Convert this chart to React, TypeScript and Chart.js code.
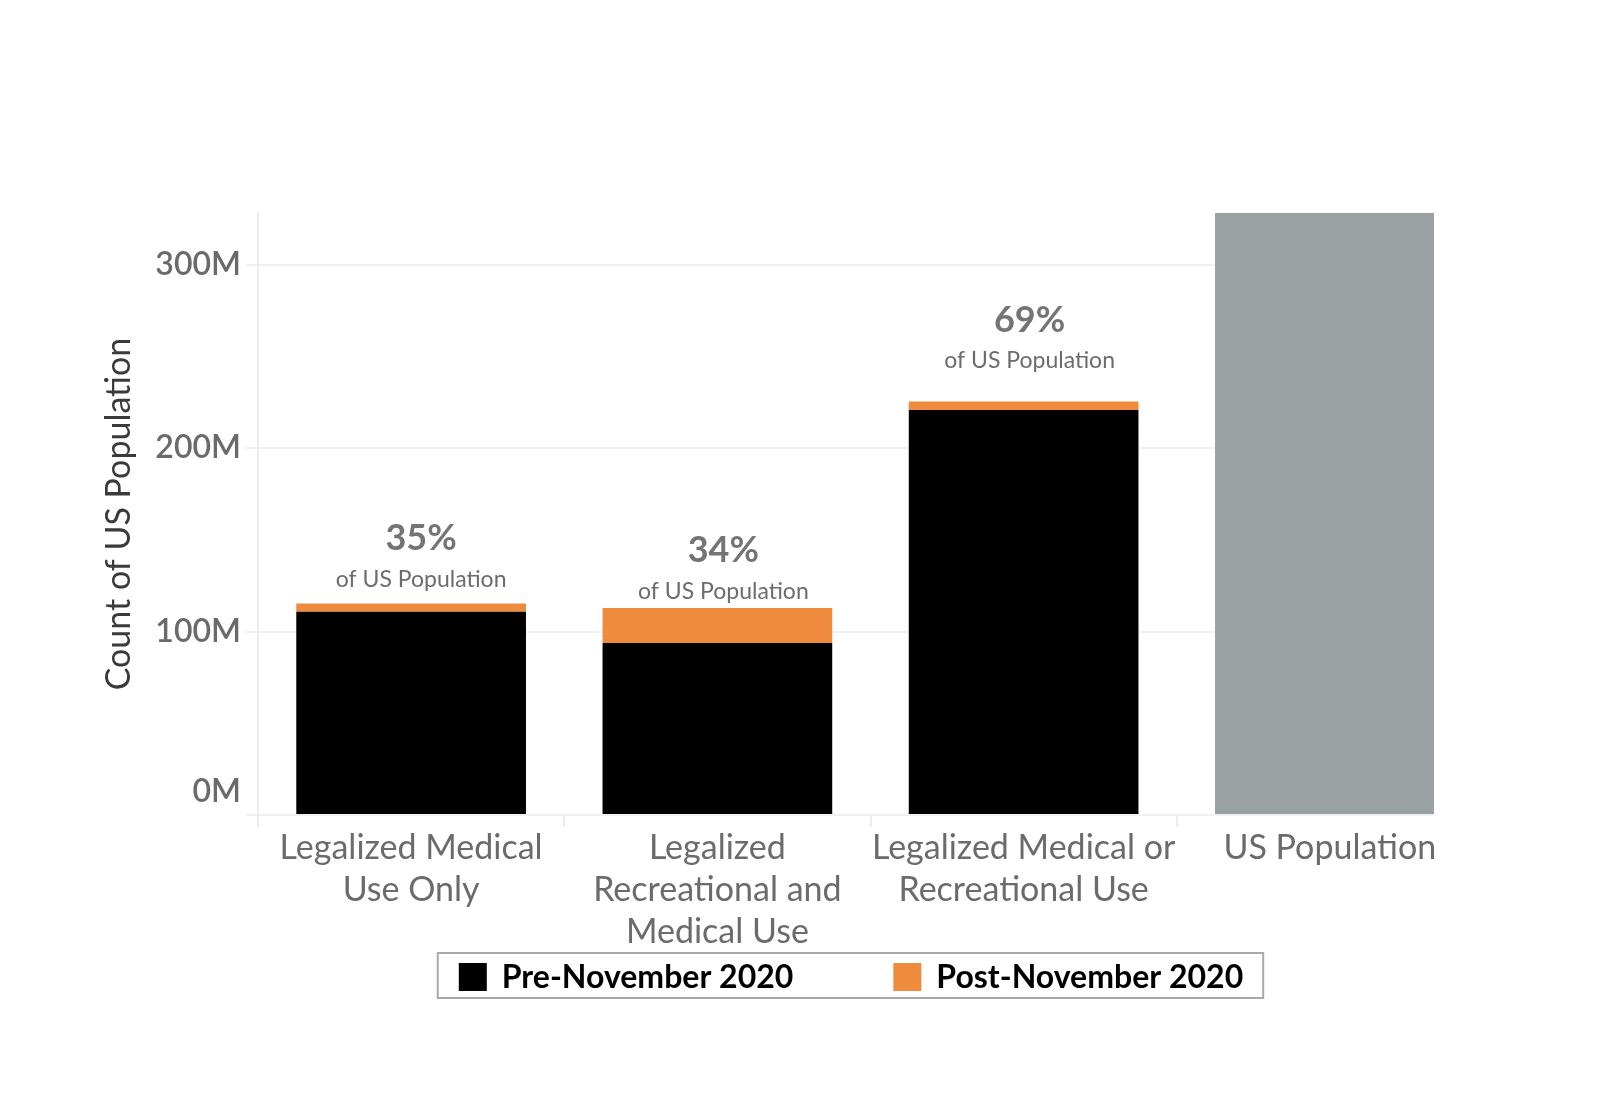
import React, { useEffect, useRef } from "react";
import { Chart, registerables } from "chart.js";

Chart.register(...registerables);

// Category labels (one entry per wrapped line)
const categories: string[][] = [
  ["Legalized Medical", "Use Only"],
  ["Legalized", "Recreational and", "Medical Use"],
  ["Legalized Medical or", "Recreational Use"],
  ["US Population"],
];

// Population counts in millions
const preNov2020 = [110.8, 93.8, 220.8];
const postNov2020 = [4.5, 19.1, 4.7];
const usPopulation = 328.2;

const yTickValues = [0, 100, 200, 300];
const seriesNames = ["Pre-November 2020", "Post-November 2020", "US Population"];

// Placement of the "% of US Population" notes above each stacked bar (px)
const noteLift = [17, 9, 33];
const noteShift = [10, 6, 6];

const FONT = "Lato";

const shareNotes = {
  id: "shareNotes",
  afterDatasetsDraw(chart: any) {
    const ctx = chart.ctx;
    const meta = chart.getDatasetMeta(1);
    const yScale = chart.scales.y;
    meta.data.forEach((bar: any, i: number) => {
      const total = preNov2020[i] + postNov2020[i];
      const pct = Math.round((total / usPopulation) * 100);
      const x = bar.x + noteShift[i];
      const base = yScale.getPixelForValue(total) - noteLift[i];
      ctx.save();
      ctx.textAlign = "center";
      ctx.textBaseline = "alphabetic";
      ctx.fillStyle = "#747474";
      ctx.font = `bold 36px ${FONT}`;
      ctx.fillText(`${pct}%`, x, base - 36.5);
      ctx.fillStyle = "#6c6c6c";
      ctx.font = `23px ${FONT}`;
      ctx.fillText("of US Population", x, base);
      ctx.restore();
    });
  },
};

// Framed legend for the two stacked series, centred under the plot
const framedLegend = {
  id: "framedLegend",
  afterDraw(chart: any) {
    const ctx = chart.ctx;
    const items = chart.data.datasets.slice(0, 2).map((ds: any) => ({
      text: ds.label as string,
      color: ds.backgroundColor as string,
    }));
    const box = 28;
    const gapAfterBox = 15;
    const itemGap = 100;
    const centerX = (chart.chartArea.left + chart.chartArea.right) / 2 + 5;
    const boxTop = 963;

    ctx.save();
    ctx.font = `bold 32px ${FONT}`;
    const widths = items.map((it: any) => box + gapAfterBox + ctx.measureText(it.text).width);
    const total = widths.reduce((a: number, b: number) => a + b, 0) + itemGap * (items.length - 1);
    let x = centerX - total / 2;
    const left = x;

    ctx.textBaseline = "middle";
    ctx.textAlign = "left";
    items.forEach((it: any, i: number) => {
      ctx.fillStyle = it.color;
      ctx.fillRect(x, boxTop, box, box);
      ctx.fillStyle = "#000000";
      ctx.fillText(it.text, x + box + gapAfterBox, boxTop + box / 2 + 1);
      x += widths[i] + itemGap;
    });
    const right = left + total;

    ctx.strokeStyle = "#a9a9a9";
    ctx.lineWidth = 2;
    ctx.strokeRect(left - 21, boxTop - 10, right - left + 41, 45);
    ctx.restore();
  },
};

export default function App() {
  const canvasRef = useRef<HTMLCanvasElement | null>(null);

  useEffect(() => {
    const canvas = canvasRef.current;
    if (!canvas) return;
    Chart.defaults.font.family = FONT;

    const chart = new Chart(canvas, {
      type: "bar",
      data: {
        datasets: [
          {
            label: seriesNames[0],
            data: preNov2020.map((v, i) => ({ x: i, y: v })),
            backgroundColor: "#000000",
            borderWidth: 0,
            clip: 0,
          },
          {
            label: seriesNames[1],
            data: postNov2020.map((v, i) => ({ x: i, y: v })),
            backgroundColor: "#ef8b3d",
            borderWidth: 0,
            clip: 0,
          },
          {
            label: seriesNames[2],
            data: [{ x: 3, y: usPopulation }],
            backgroundColor: "#9aa1a2",
            borderWidth: 0,
            clip: 0,
          },
        ] as any,
      },
      options: {
        animation: false,
        responsive: false,
        maintainAspectRatio: false,
        layout: { padding: { left: 90, right: 166, top: 213, bottom: 139 } },
        datasets: { bar: { barPercentage: 0.75, categoryPercentage: 1 } } as any,
        scales: {
          x: {
            type: "linear",
            bounds: "data",
            offset: false,
            min: -0.5,
            max: 3.34,
            stacked: true,
            afterBuildTicks: (scale: any) => {
              scale.ticks = categories.map((_, i) => ({ value: i }));
            },
            afterFit: (scale: any) => {
              scale.height = 140;
            },
            ticks: {
              autoSkip: false,
              maxRotation: 0,
              minRotation: 0,
              padding: 0,
              color: "#6b6b6b",
              font: { family: FONT, size: 34, lineHeight: 1.235 },
              callback: (value: any) => categories[value as number] ?? "",
            },
            grid: {
              offset: true,
              drawOnChartArea: false,
              drawTicks: true,
              tickLength: 12,
              color: "#ececec",
              lineWidth: 2,
            },
            border: { display: false },
          } as any,
          y: {
            type: "linear",
            bounds: "data",
            min: 0,
            max: usPopulation,
            stacked: true,
            afterBuildTicks: (scale: any) => {
              scale.ticks = yTickValues.map((v) => ({ value: v }));
            },
            afterFit: (scale: any) => {
              scale.width = 168;
            },
            ticks: {
              padding: 5,
              color: "#6a6a6a",
              font: { family: FONT, size: 32, weight: "600", lineHeight: 1.44 },
              callback: (value: any) => (value === 0 ? ["0M", ""] : `${value}M`),
            },
            grid: { color: "#f0f0f0", lineWidth: 2, tickLength: 12 },
            border: { display: true, color: "#ececec", width: 2 },
            title: {
              display: true,
              text: "Count of US Population",
              color: "#3a3a3a",
              font: { family: FONT, size: 34, lineHeight: 1.2 },
              padding: { top: 9, bottom: 0 },
            },
          } as any,
        },
        plugins: {
          legend: { display: false },
          tooltip: { enabled: false },
        },
      },
      plugins: [shareNotes, framedLegend],
    });

    if ((document as any).fonts?.ready) {
      (document as any).fonts.ready.then(() => chart.update());
    }

    return () => {
      chart.destroy();
    };
  }, []);

  return (
    <div
      style={{
        position: "fixed",
        left: 0,
        top: 0,
        width: 1600,
        height: 1094,
        background: "#ffffff",
        overflow: "hidden",
      }}
    >
      <canvas ref={canvasRef} width={1600} height={1094} style={{ display: "block" }} />
    </div>
  );
}
